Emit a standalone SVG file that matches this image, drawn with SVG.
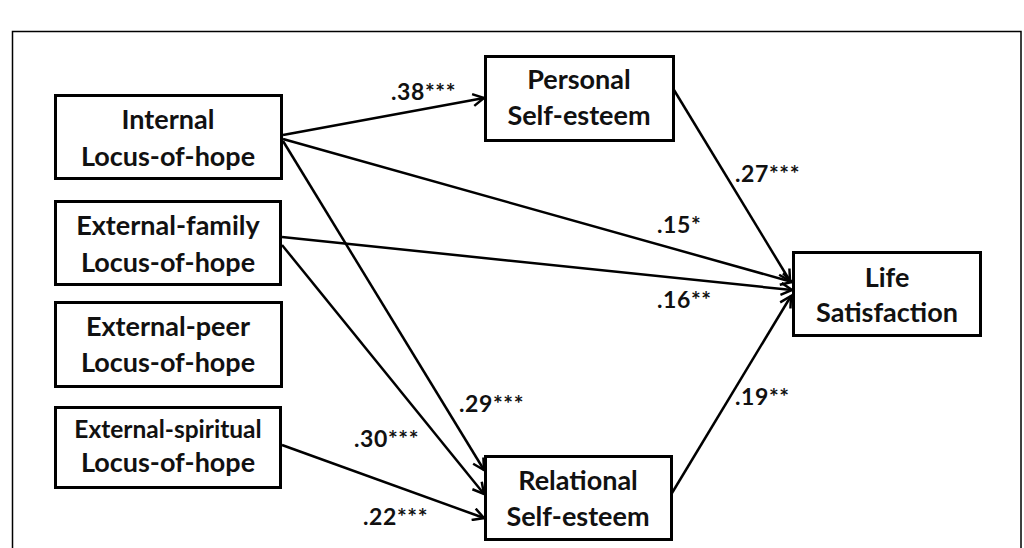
<svg xmlns="http://www.w3.org/2000/svg" width="1024" height="548" viewBox="0 0 1024 548">
<defs>
<style>
.box{fill:#fff;stroke:#000;stroke-width:3}
.t{font-family:Lato,"Open Sans",sans-serif;font-weight:bold;font-size:27px;text-anchor:middle;fill:#111}
.l{font-family:Lato,"Open Sans",sans-serif;font-weight:bold;font-size:23px;letter-spacing:0.6px;fill:#111}
.c{fill:none;stroke:#000;stroke-width:2.5}
</style>
<marker id="ah" viewBox="0 0 14 14" refX="12" refY="7" markerWidth="14" markerHeight="14" markerUnits="userSpaceOnUse" orient="auto">
<path d="M1,1 L12,7 L1,13" fill="none" stroke="#000" stroke-width="2.5"/>
</marker>
</defs>
<rect x="0" y="0" width="1024" height="548" fill="#fff"/>
<rect x="12.5" y="31.5" width="1008.5" height="540" fill="none" stroke="#000" stroke-width="1.5"/>
<g id="connectors">
<line class="c" x1="283" y1="135" x2="484" y2="98" marker-end="url(#ah)"/>
<line class="c" x1="283" y1="139" x2="792" y2="282" marker-end="url(#ah)"/>
<line class="c" x1="283" y1="141" x2="484" y2="470" marker-end="url(#ah)"/>
<line class="c" x1="282" y1="237" x2="792" y2="290" marker-end="url(#ah)"/>
<line class="c" x1="282" y1="245" x2="484" y2="494" marker-end="url(#ah)"/>
<line class="c" x1="282" y1="445" x2="484" y2="518" marker-end="url(#ah)"/>
<line class="c" x1="674" y1="90" x2="790" y2="281" marker-end="url(#ah)"/>
<line class="c" x1="672" y1="493" x2="791" y2="296" marker-end="url(#ah)"/>
<text class="l" x="391" y="100">.38***</text>
<text class="l" x="735" y="182">.27***</text>
<text class="l" x="657" y="233">.15*</text>
<text class="l" x="657" y="308">.16**</text>
<text class="l" x="735" y="405">.19**</text>
<text class="l" x="459" y="412">.29***</text>
<text class="l" x="354" y="447">.30***</text>
<text class="l" x="363" y="525">.22***</text>
</g>
<g id="internal">
<rect class="box" x="55.5" y="95.5" width="226" height="83"/>
<text class="t" x="168" y="129">Internal</text>
<text class="t" x="168" y="166">Locus-of-hope</text>
</g>
<g id="external-family">
<rect class="box" x="55.5" y="201.5" width="225" height="83"/>
<text class="t" x="168" y="235">External-family</text>
<text class="t" x="168" y="272">Locus-of-hope</text>
</g>
<g id="external-peer">
<rect class="box" x="55.5" y="302.5" width="226" height="84"/>
<text class="t" x="168" y="336">External-peer</text>
<text class="t" x="168" y="372">Locus-of-hope</text>
</g>
<g id="external-spiritual">
<rect class="box" x="55.5" y="407.5" width="225" height="80"/>
<text class="t" x="168" y="438" style="font-size:24.5px">External-spiritual</text>
<text class="t" x="168" y="472">Locus-of-hope</text>
</g>
<g id="personal">
<rect class="box" x="485.5" y="56.5" width="188" height="84"/>
<text class="t" x="579" y="89">Personal</text>
<text class="t" x="579" y="125">Self-esteem</text>
</g>
<g id="life">
<rect class="box" x="793.5" y="252.5" width="187" height="83"/>
<text class="t" x="887" y="287">Life</text>
<text class="t" x="887" y="322">Satisfaction</text>
</g>
<g id="relational">
<rect class="box" x="485.5" y="456.5" width="186" height="83"/>
<text class="t" x="578" y="490">Relational</text>
<text class="t" x="578" y="526">Self-esteem</text>
</g>
</svg>
